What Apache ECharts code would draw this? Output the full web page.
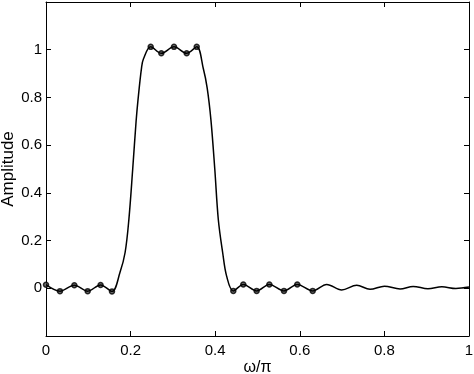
<!DOCTYPE html>
<html>
<head>
<meta charset="utf-8">
<script src="https://cdn.jsdelivr.net/npm/echarts@6/dist/echarts.min.js"></script>
<style>html,body{margin:0;padding:0;background:#fff}#c{width:474px;height:374px}</style>
</head>
<body>
<div id="c"></div>
<script>
// Continuous amplitude response
var curveFreq = [0, 0.033, 0.067, 0.0985, 0.129, 0.156,
  0.175, 0.187, 0.196, 0.205, 0.213, 0.2175, 0.226, 0.2305,
  0.2475, 0.2726, 0.3026, 0.3326, 0.3563,
  0.372, 0.381, 0.390, 0.399, 0.4074, 0.4177, 0.427,
  0.4428, 0.4664, 0.498, 0.528, 0.5626, 0.594, 0.6305,
  0.6636, 0.699, 0.7345, 0.766, 0.80, 0.837, 0.868, 0.903, 0.936, 0.969, 1.0];
var curveAmp = [0.015, -0.012, 0.013, -0.012, 0.014, -0.013,
  0.067, 0.15, 0.29, 0.5, 0.70, 0.79, 0.926, 0.962,
  1.012, 0.985, 1.012, 0.985, 1.012,
  0.92, 0.84, 0.704, 0.5, 0.2875, 0.149, 0.051,
  -0.011, 0.016, -0.011, 0.016, -0.011, 0.016, -0.011,
  0.016, -0.007, 0.0125, -0.004, 0.009, -0.003, 0.008, -0.002, 0.006, -0.001, 0.005];
// Marked sample points
var markFreq = [0, 0.033, 0.067, 0.0985, 0.129, 0.156,
  0.2475, 0.2726, 0.3026, 0.3326, 0.3563,
  0.4428, 0.4664, 0.498, 0.528, 0.5626, 0.594, 0.6305];
var markAmp = [0.015, -0.012, 0.013, -0.012, 0.014, -0.013,
  1.012, 0.985, 1.012, 0.985, 1.012,
  -0.011, 0.016, -0.011, 0.016, -0.011, 0.016, -0.011];
var xTicks = [0, 0.2, 0.4, 0.6, 0.8, 1];
var yTicks = [0, 0.2, 0.4, 0.6, 0.8, 1];
var xLabel = 'ω/π';
var yLabel = 'Amplitude';

var font = "'Liberation Sans', Arial, Helvetica, sans-serif";
function pairs(a, b) { return a.map(function (v, i) { return [v, b[i]]; }); }
function fmt(list) {
  return function (v) {
    for (var i = 0; i < list.length; i++) if (Math.abs(list[i] - v) < 1e-6) return String(list[i]);
    return '';
  };
}
var chart = echarts.init(document.getElementById('c'), null, {renderer: 'canvas'});
var axisLine = {show: true, onZero: false, lineStyle: {color: '#000', width: 1}};
var tick = {show: true, inside: true, length: 5, lineStyle: {color: '#000', width: 1}};
chart.setOption({
  animation: false,
  backgroundColor: '#fff',
  grid: {left: 46, right: 5, top: 2, bottom: 38, containLabel: false, outerBoundsMode: 'none'},
  xAxis: [{
    type: 'value', min: 0, max: 1, interval: 0.2, position: 'bottom',
    axisLine: axisLine, axisTick: tick, splitLine: {show: false},
    axisLabel: {formatter: fmt(xTicks), color: '#000', fontFamily: font, fontSize: 15, margin: 7},
    name: xLabel, nameLocation: 'middle', nameGap: 24, nameMoveOverlap: false,
    nameTextStyle: {color: '#000', fontFamily: font, fontSize: 16}
  }, {
    type: 'value', min: 0, max: 1, interval: 0.2, position: 'top',
    axisLine: axisLine, axisTick: tick, splitLine: {show: false}, axisLabel: {show: false}
  }],
  yAxis: [{
    type: 'value', min: -0.2, max: 1.2, interval: 0.2, position: 'left',
    axisLine: axisLine, axisTick: tick, splitLine: {show: false},
    axisLabel: {formatter: fmt(yTicks), color: '#000', fontFamily: font, fontSize: 15, margin: 4},
    name: yLabel, nameLocation: 'middle', nameGap: 29, nameRotate: 90, nameMoveOverlap: false,
    nameTextStyle: {color: '#000', fontFamily: font, fontSize: 17}
  }, {
    type: 'value', min: -0.2, max: 1.2, interval: 0.2, position: 'right',
    axisLine: axisLine, axisTick: tick, splitLine: {show: false}, axisLabel: {show: false}
  }],
  series: [{
    type: 'line', xAxisIndex: 0, yAxisIndex: 0,
    data: pairs(curveFreq, curveAmp),
    smooth: 0.35, showSymbol: false,
    lineStyle: {color: '#000', width: 1.5}
  }, {
    type: 'scatter', xAxisIndex: 0, yAxisIndex: 0,
    data: pairs(markFreq, markAmp),
    symbol: 'circle', symbolSize: 5,
    itemStyle: {color: '#555', borderColor: '#000', borderWidth: 1.5}
  }]
});
</script>
</body>
</html>
